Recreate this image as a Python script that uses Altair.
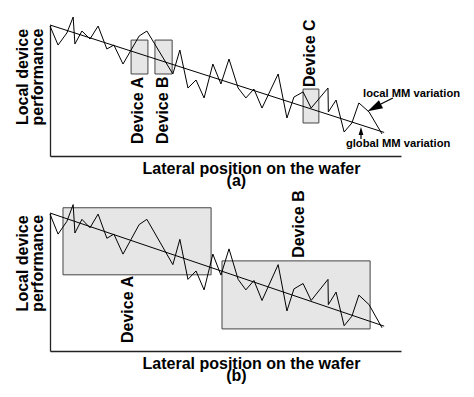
import altair as alt
import pandas as pd

FONT = "Liberation Sans"

# ---- data (lateral position 0-100, local device performance 0-100, arbitrary units) ----
position = [0, 2.3, 4.8, 6.6, 7.1, 9.1, 11.4, 13.7, 16.2, 18.2, 20.8, 23.1, 25.4, 27.6,
            35.0, 37.0, 39.3, 41.6, 43.9, 46.4, 48.7, 51.0, 53.6, 55.8, 58.1, 60.4,
            65.0, 67.5, 69.5, 72.1, 74.4, 79.2, 79.3, 81.5, 83.8, 86.0, 88.0, 90.9, 94.6]
performance = [99.2, 84.7, 93.9, 106.1, 85.5, 95.4, 89.3, 99.2, 81.7, 84.7, 70.2, 80.9, 91.6, 95.4,
               62.6, 80.9, 51.9, 58.0, 44.3, 70.2, 55.0, 74.0, 51.9, 44.3, 51.1, 36.6,
               62.6, 29.0, 45.0, 48.9, 36.6, 51.9, 33.6, 42.7, 18.3, 25.2, 40.5, 33.6, 16.8]

global_x = [0, 95.2]
global_y = [100, 18.0]

# panel (a) devices
a_names = ["Device A", "Device B", "Device C"]
a_x1 = [23.1, 29.9, 72.1]
a_x2 = [27.9, 34.8, 76.6]
a_y1 = [62.6, 62.6, 25.2]
a_y2 = [88.5, 88.5, 51.1]
a_lx = [25.1, 32.2, 74.1]
a_ly = [9.2, 9.2, 52.7]

# panel (b) devices
b_names = ["Device A", "Device B"]
b_x1 = [3.7, 49.0]
b_x2 = [45.9, 91.2]
b_y1 = [55.2, 16.0]
b_y2 = [103.8, 65.3]
b_lx = [22.2, 70.9]
b_ly = [5.8, 67.5]

line_df = pd.DataFrame({"x": position, "y": performance, "i": list(range(len(position)))})
trend_df = pd.DataFrame({"x": global_x, "y": global_y})

XS = alt.Scale(domain=[0, 100], nice=False, zero=False)
YS = alt.Scale(domain=[0, 100], nice=False, zero=False)


def X(f="x"):
    return alt.X(f, type="quantitative", scale=XS,
                 axis=alt.Axis(domain=True, ticks=False, labels=False, grid=False, title=None,
                               domainColor="#222", domainWidth=1.3))


def Y(f="y"):
    return alt.Y(f, type="quantitative", scale=YS,
                 axis=alt.Axis(domain=True, ticks=False, labels=False, grid=False, title=None,
                               domainColor="#222", domainWidth=1.3))


def txt(df, size=16, **kw):
    return alt.Chart(df).mark_text(font=FONT, fontWeight="bold", fontSize=size, color="black", **kw)


def panel(names, x1, x2, y1, y2, lx, ly, height, ytitle_y, xtitle_y, tag_y, tag):
    boxes = pd.DataFrame({"name": names, "x1": x1, "x2": x2, "y1": y1, "y2": y2})
    labels = pd.DataFrame({"name": names, "x": lx, "y": ly})
    rects = alt.Chart(boxes).mark_rect(fill="#e6e6e6", stroke="#444", strokeWidth=1).encode(
        x=X("x1"), x2="x2", y=Y("y1"), y2="y2")
    trend = alt.Chart(trend_df).mark_line(color="black", strokeWidth=1).encode(x=X(), y=Y())
    local = alt.Chart(line_df).mark_line(color="black", strokeWidth=1).encode(
        x=X(), y=Y(), order="i:Q")
    dev = txt(labels, angle=270, align="left", baseline="middle").encode(
        x=X(), y=Y(), text="name:N")
    ytitle = txt(pd.DataFrame({"x": [-6.27], "y": [ytitle_y], "t": ["Local device\nperformance"]}),
                 angle=270, align="center", baseline="alphabetic", lineBreak="\n", lineHeight=15
                 ).encode(x=X(), y=Y(), text="t:N")
    xtitle = txt(pd.DataFrame({"x": [57.4, 53.1], "y": [xtitle_y, tag_y],
                               "t": ["Lateral position on the wafer", tag]}),
                 align="center", baseline="alphabetic").encode(x=X(), y=Y(), text="t:N")
    return [rects, trend, local, dev, ytitle, xtitle]


layers_a = panel(a_names, a_x1, a_x2, a_y1, a_y2, a_lx, a_ly, 131, 60.3, -13.7, -22.9, "(a)")

# annotations for panel (a)
ann = pd.DataFrame({"x": [89.2, 84.3], "y": [45.0, 6.9], "t": ["local MM variation", "global MM variation"]})
ann_text = txt(ann, size=11.2, align="left", baseline="alphabetic").encode(x=X(), y=Y(), text="t:N")
shaft_local = alt.Chart(pd.DataFrame({"x": [97.7], "y": [44.3], "x2": [92.0], "y2": [36.6]})).mark_rule(
    color="black", strokeWidth=1.2).encode(x=X(), y=Y(), x2="x2", y2="y2")
shaft_global = alt.Chart(pd.DataFrame({"x": [88.6], "y": [13.0], "y2": [19.8]})).mark_rule(
    color="black", strokeWidth=1.2).encode(x=X(), y=Y(), y2="y2")
HEAD = "M0,-1L0.6,1L-0.6,1Z"
head_local = alt.Chart(pd.DataFrame({"x": [92.4], "y": [36.8]})).mark_point(
    shape=HEAD, filled=True, color="black", opacity=1, size=225, angle=242.5).encode(x=X(), y=Y())
head_global = alt.Chart(pd.DataFrame({"x": [88.6], "y": [19.1]})).mark_point(
    shape=HEAD, filled=True, color="black", opacity=1, size=64, angle=0).encode(x=X(), y=Y())

panel_a = alt.layer(*layers_a, ann_text, shaft_local, shaft_global, head_local, head_global).properties(
    width=351, height=131)

layers_b = panel(b_names, b_x1, b_x2, b_y1, b_y2, b_lx, b_ly, 138, 63.5, -12.7, -21.8, "(b)")
panel_b = alt.layer(*layers_b).properties(width=351, height=138)

chart = alt.vconcat(panel_a, panel_b, spacing=1).properties(
    padding={"left": 6, "top": 7, "right": 0, "bottom": 0}
).configure_view(stroke=None)

chart.save("out.html", embed_options={"renderer": "svg", "actions": False})
